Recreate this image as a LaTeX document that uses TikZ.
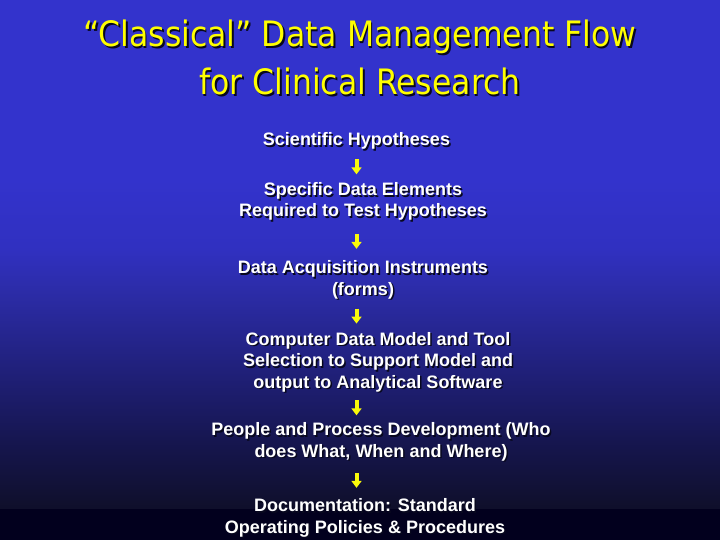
\documentclass[tikz,border=0pt]{standalone}
\usepackage{fontspec}
\setmainfont{Liberation Sans}
\newfontfamily\titlefont{DejaVu Sans Condensed}
\usetikzlibrary{calc,arrows.meta}

\definecolor{bgA}{RGB}{51,51,204}
\definecolor{bgB}{RGB}{48,48,192}
\definecolor{bgC}{RGB}{44,44,168}
\definecolor{bgD}{RGB}{32,32,122}
\definecolor{bgE}{RGB}{22,22,80}
\definecolor{bgF}{RGB}{15,15,42}
\definecolor{bgG}{RGB}{2,0,30}
\definecolor{titleyellow}{RGB}{255,255,0}
\definecolor{arrowyellow}{RGB}{250,250,10}
\definecolor{shadowc}{RGB}{8,8,30}

% text with a small drop shadow
\newcommand\shtext[1]{\makebox[0pt][l]{\kern1.5pt\raisebox{-1.5pt}{\color{shadowc}#1}}#1}

\tikzset{every picture/.style={line width=0.75pt}}
\tikzset{
  slidetitle/.style={text=titleyellow, font=\titlefont\fontsize{35}{48}\selectfont, align=center, inner sep=0},
  stagetext/.style={text=white, font=\bfseries\fontsize{18}{21.5}\selectfont, align=center, inner sep=0},
  flowarrow/.style={draw=arrowyellow, line width=4pt, -{Triangle[length=7pt,width=10pt]}},
}

\begin{document}
\begin{tikzpicture}[x=1pt,y=1pt,yscale=-1]
	\useasboundingbox (0,0) rectangle (720,540);

	% background
	\fill[bgA] (0,0) rectangle (720,180);
	\shade[top color=bgA, bottom color=bgB] (0,180) rectangle (720,250);
	\shade[top color=bgB, bottom color=bgC] (0,250) rectangle (720,290);
	\shade[top color=bgC, bottom color=bgD] (0,290) rectangle (720,370);
	\shade[top color=bgD, bottom color=bgE] (0,370) rectangle (720,440);
	\shade[top color=bgE, bottom color=bgF] (0,440) rectangle (720,509);
	\fill[bgG] (0,509) rectangle (720,540);

	% title (base = last line)
	\node[slidetitle, anchor=base] (title) at (360,95) {\shtext{“Classical” Data Management Flow}\\\shtext{for Clinical Research}};

	% stages (base = last line)
	\node[stagetext, anchor=base] (hyp) at (356.5,146) {\shtext{Scientific Hypotheses}};
	\node[stagetext, anchor=base] (elem) at (363,217) {\shtext{Specific Data Elements}\\\shtext{Required to Test Hypotheses}};
	\node[stagetext, anchor=base] (forms) at (363,295) {\shtext{Data Acquisition Instruments}\\\shtext{(forms)}};
	\node[stagetext, anchor=base] (model) at (378,388) {\shtext{Computer Data Model and Tool}\\\shtext{Selection to Support Model and}\\\shtext{output to Analytical Software}};
	\node[stagetext, anchor=base] (people) at (381,457) {\shtext{People and Process Development (Who}\\\shtext{does What, When and Where)}};
	\node[stagetext, anchor=base] (docs) at (365,533) {\shtext{Documentation: Standard}\\\shtext{Operating Policies \& Procedures}};

	% arrows
	\foreach \a/\b in {hyp/elem, elem/forms, forms/model, model/people, people/docs}{
		\coordinate (mid) at ($(\a.south)!.5!(\b.north)$);
		\draw[flowarrow] ($(hyp |- mid)+(0,-7.5)$) -- ($(hyp |- mid)+(0,7.5)$);
	}

\end{tikzpicture}
\end{document}
